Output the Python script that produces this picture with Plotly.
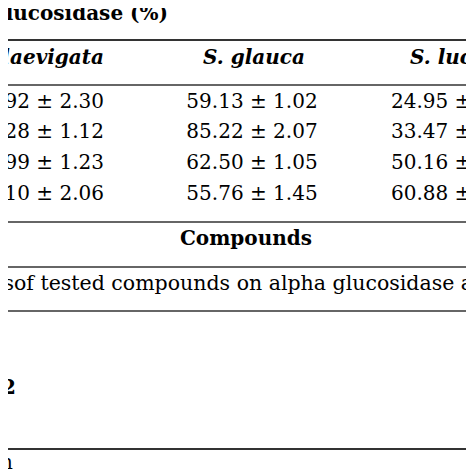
import plotly.graph_objects as go

# table content (cropped table)
species = ["S. laevigata", "S. glauca", "S. lucida"]
col1 = ["45.92 ± 2.30", "52.28 ± 1.12", "66.99 ± 1.23", "71.10 ± 2.06"]
col2 = ["59.13 ± 1.02", "85.22 ± 2.07", "62.50 ± 1.05", "55.76 ± 1.45"]
col3 = ["24.95 ± 1.10", "33.47 ± 1.20", "50.16 ± 1.31", "60.88 ± 1.52"]
row_y = [95, 125, 156, 187]

FONT = "DejaVu Serif"
fig = go.Figure()

# note: "middle left" puts the text to the left of the point (right-aligned)
def txt(x, y, s, pos, size=20, bold=False, italic=False):
    if bold:
        s = f"<b>{s}</b>"
    if italic:
        s = f"<i>{s}</i>"
    fig.add_trace(go.Scatter(x=[x], y=[y], mode="text", text=[s],
                             textposition=pos, cliponaxis=False,
                             textfont=dict(family=FONT, size=size, color="#000"),
                             hoverinfo="skip", showlegend=False))

txt(160, 7, "Inhibition of alpha glucosidase (%)", "middle left", bold=True)
txt(96, 51, species[0], "middle left", bold=True, italic=True)
txt(246, 51, species[1], "middle center", bold=True, italic=True)
txt(402, 51, species[2], "middle right", bold=True, italic=True)
for y, a, b, c in zip(row_y, col1, col2, col3):
    txt(96, y, a, "middle left")
    txt(244, y, b, "middle center")
    txt(383, y, c, "middle right")
txt(238, 232, "Compounds", "middle center", bold=True)
txt(6, 277, "Inhibitory effects", "middle left", size=20.5)
txt(6, 277, "of tested compounds on alpha glucosidase activity.", "middle right", size=20.5)
txt(8, 381, "Table 2", "middle left", bold=True)
txt(5, 456, "Data are presen", "middle left")
txt(-8, 456, "ted as means ± SDs (standard deviations).", "middle right")

for y, w in [(32, 1.8), (77, 1.3), (214, 1.3), (259, 1.3), (303, 1.3), (441, 1.8)]:
    fig.add_shape(type="line", x0=-10, x1=490, y0=y, y1=y,
                  line=dict(color="#333", width=w), xref="x", yref="y")

fig.update_layout(
    width=474, height=474, margin=dict(l=0, r=0, t=0, b=0),
    paper_bgcolor="white", plot_bgcolor="white",
    xaxis=dict(range=[0, 474], visible=False, fixedrange=True),
    yaxis=dict(range=[474, 0], visible=False, fixedrange=True),
)
fig.write_html("out.html")
